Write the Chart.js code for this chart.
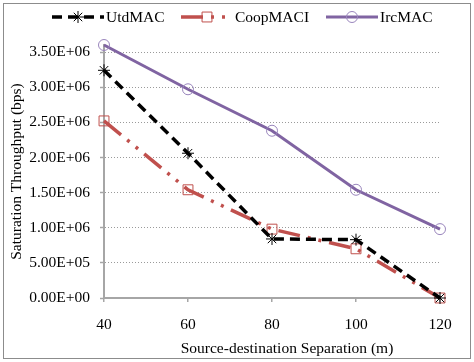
<!DOCTYPE html>
<html>
<head>
<meta charset="utf-8">
<script src="https://cdn.jsdelivr.net/npm/chart.js@4.4.1/dist/chart.umd.min.js"></script>
<style>
  html, body { margin: 0; padding: 0; background: #fff; }
  #wrap { width: 474px; height: 362px; position: relative; }
</style>
</head>
<body>
<div id="wrap"><canvas id="c" width="474" height="362"></canvas></div>
<script>
const separations = ['40', '60', '80', '100', '120'];
const utdMAC = [3.24e6, 2.06e6, 0.84e6, 0.83e6, 0];
const coopMACI = [2.52e6, 1.54e6, 0.98e6, 0.70e6, 0];
const ircMAC = [3.60e6, 2.97e6, 2.38e6, 1.54e6, 0.98e6];
const yTicks = [0, 5e5, 1e6, 1.5e6, 2e6, 2.5e6, 3e6, 3.5e6];

const serif = '"Liberation Serif", "Times New Roman", serif';
const fontSize = 15.5;
const grey = '#a6a6a6';

// legend x positions (start of the line sample)
const legendX = [52, 181, 326];

const sci = (v) => {
  const [m, e] = Number(v).toExponential(2).split('e');
  const exp = Math.abs(+e).toString().padStart(2, '0');
  return m + 'E' + (+e < 0 ? '-' : '+') + exp;
};

const frameAndLegend = {
  id: 'frameAndLegend',
  beforeDraw(chart) {
    const { ctx } = chart;
    ctx.save();
    ctx.fillStyle = '#fff';
    ctx.fillRect(0, 0, chart.width, chart.height);
    ctx.strokeStyle = '#8c8c8c';
    ctx.lineWidth = 1;
    ctx.strokeRect(3.5, 3.5, 467, 355);
    ctx.restore();
  },
  afterDraw(chart) {
    const { ctx } = chart;
    const y = 17;
    chart.data.datasets.forEach((ds, i) => {
      const sx = legendX[i];
      ctx.save();
      ctx.strokeStyle = ds.borderColor;
      ctx.lineWidth = ds.borderWidth;
      ctx.setLineDash(ds.borderDash || []);
      ctx.beginPath();
      ctx.moveTo(sx, y);
      ctx.lineTo(sx + 52, y);
      ctx.stroke();
      ctx.restore();

      ctx.save();
      ctx.strokeStyle = ds.pointBorderColor;
      ctx.fillStyle = 'rgba(0,0,0,0)';
      ctx.lineWidth = ds.pointBorderWidth;
      Chart.helpers.drawPoint(ctx, {
        pointStyle: ds.pointStyle,
        radius: ds.pointRadius,
        borderWidth: ds.pointBorderWidth,
      }, sx + 26, y);
      ctx.restore();

      ctx.save();
      ctx.fillStyle = '#000';
      ctx.font = fontSize + 'px ' + serif;
      ctx.textBaseline = 'middle';
      ctx.fillText(ds.label, sx + 54, y + 1);
      ctx.restore();
    });

    // x axis title, centred where the original has it
    ctx.save();
    ctx.fillStyle = '#000';
    ctx.font = fontSize + 'px ' + serif;
    ctx.textAlign = 'center';
    ctx.textBaseline = 'middle';
    ctx.fillText('Source-destination Separation (m)', 287, 349);
    ctx.restore();
  },
};

new Chart(document.getElementById('c'), {
  type: 'line',
  data: {
    labels: separations,
    datasets: [
      {
        label: 'UtdMAC',
        data: utdMAC,
        borderColor: '#000',
        borderWidth: 3.5,
        borderDash: [10, 6],
        pointStyle: 'star',
        pointRadius: 6,
        pointBorderWidth: 1,
        pointBorderColor: '#000',
        pointBackgroundColor: 'transparent',
        tension: 0,
        clip: false,
      },
      {
        label: 'CoopMACI',
        data: coopMACI,
        borderColor: '#c0504d',
        borderWidth: 3.5,
        borderDash: [22, 8, 3, 8, 3, 8],
        pointStyle: 'rect',
        pointRadius: 7,
        pointBorderWidth: 1,
        pointBorderColor: '#c0504d',
        pointBackgroundColor: 'transparent',
        tension: 0,
        clip: false,
      },
      {
        label: 'IrcMAC',
        data: ircMAC,
        borderColor: '#8064a2',
        borderWidth: 3,
        pointStyle: 'circle',
        pointRadius: 5.5,
        pointBorderWidth: 1,
        pointBorderColor: '#9a86bd',
        pointBackgroundColor: 'transparent',
        tension: 0,
        clip: false,
      },
    ],
  },
  options: {
    responsive: false,
    animation: false,
    devicePixelRatio: 1,
    layout: { padding: { top: 45, right: 34, left: 0, bottom: 0 } },
    plugins: {
      legend: { display: false },
      tooltip: { enabled: false },
    },
    scales: {
      x: {
        offset: false,
        afterFit(scale) { scale.height = 64; },
        grid: { drawOnChartArea: false, color: grey, tickLength: 4, lineWidth: 1.5 },
        border: { color: grey, width: 2 },
        ticks: { color: '#000', font: { family: serif, size: fontSize }, padding: 14, maxRotation: 0 },
      },
      y: {
        min: 0,
        max: 3.6e6,
        afterFit(scale) { scale.width = 104; },
        afterBuildTicks(scale) {
          scale.ticks = yTicks.map((value) => ({ value }));
        },
        ticks: {
          autoSkip: false,
          color: '#000',
          font: { family: serif, size: fontSize },
          padding: 10,
          callback: sci,
        },
        grid: {
          color: '#9a9a9a',
          lineWidth: 1,
          tickLength: 4,
          tickBorderDash: [],
          tickColor: grey,
          tickWidth: 1.5,
        },
        border: { color: grey, width: 2, dash: [1, 2] },
        title: {
          display: true,
          text: 'Saturation Throughput (bps)',
          color: '#000',
          font: { family: serif, size: fontSize },
          padding: { top: 8, bottom: 0 },
        },
      },
    },
  },
  plugins: [frameAndLegend],
});
</script>
</body>
</html>
